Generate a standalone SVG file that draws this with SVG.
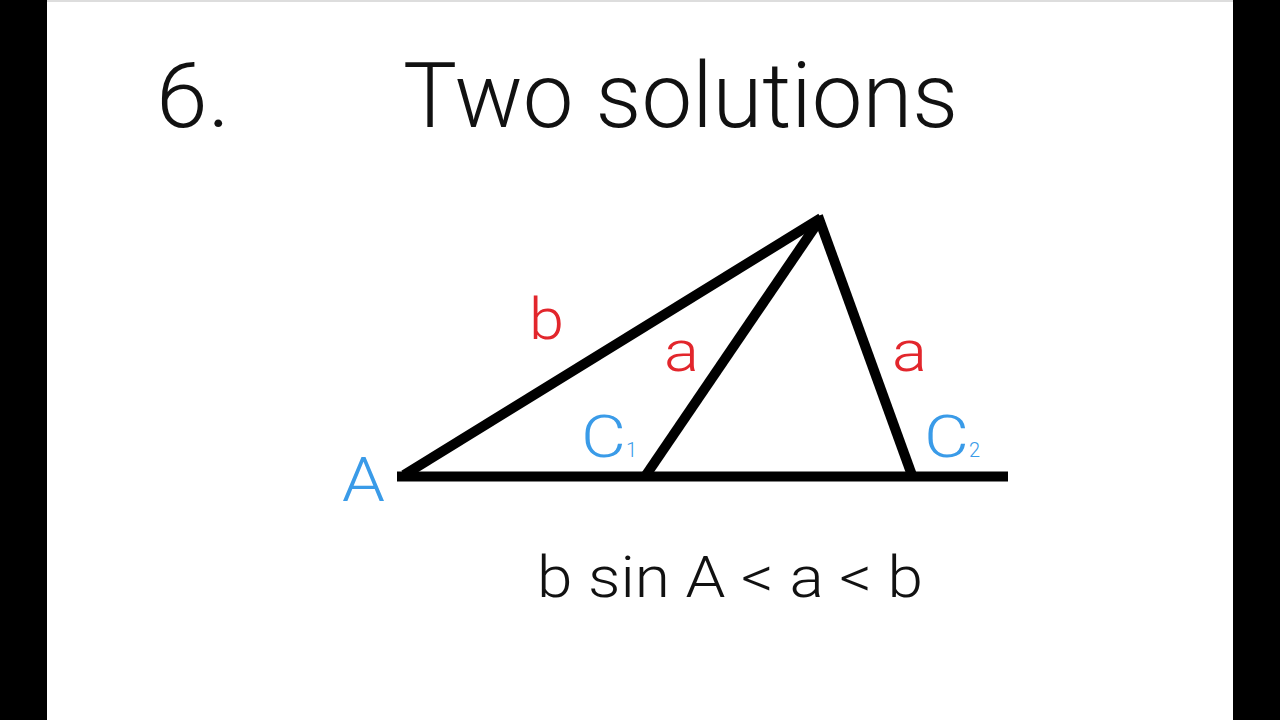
<svg xmlns="http://www.w3.org/2000/svg" width="1280" height="720" viewBox="0 0 1280 720">
<style>
.t{font-family:Roboto,"Liberation Sans",sans-serif;font-weight:300}
.red{fill:#e2262c}
.blue{fill:#3a9be8}
.blk{fill:#111}
.ln{stroke:#000;stroke-width:10;fill:none;stroke-linecap:butt}
</style>
<rect x="0" y="0" width="1280" height="720" fill="#fff"/>
<rect x="0" y="0" width="47" height="720" fill="#000"/>
<rect x="1233" y="0" width="47" height="720" fill="#000"/>
<line x1="47" y1="1" x2="1233" y2="1" stroke="#ddd" stroke-width="2"/>
<g id="title">
<text class="t blk" x="156" y="127" font-size="90" textLength="74" lengthAdjust="spacingAndGlyphs">6.</text>
<text class="t blk" x="403" y="127" font-size="90" textLength="555" lengthAdjust="spacingAndGlyphs">Two solutions</text>
</g>
<g id="connectors">
<line class="ln" x1="397" y1="476.5" x2="1008" y2="476.5"/>
<line class="ln" x1="404" y1="475" x2="821" y2="218"/>
<line class="ln" x1="644" y1="478" x2="821" y2="218"/>
<line class="ln" x1="913" y1="478" x2="818" y2="216"/>
</g>
<g id="labels">
<text class="t red" x="529" y="339" font-size="58" textLength="35" lengthAdjust="spacingAndGlyphs">b</text>
<text class="t red" x="664" y="371" font-size="58" textLength="35" lengthAdjust="spacingAndGlyphs">a</text>
<text class="t red" x="892" y="371" font-size="58" textLength="35" lengthAdjust="spacingAndGlyphs">a</text>
<text class="t blue" x="342" y="501" font-size="62" textLength="43" lengthAdjust="spacingAndGlyphs">A</text>
<text class="t blue" x="581" y="457" font-size="60" textLength="45" lengthAdjust="spacingAndGlyphs">C</text>
<text class="t blue" x="626" y="457" font-size="20">1</text>
<text class="t blue" x="924" y="457" font-size="60" textLength="45" lengthAdjust="spacingAndGlyphs">C</text>
<text class="t blue" x="969" y="457" font-size="20">2</text>
</g>
<g id="formula">
<text class="t blk" x="537" y="597" font-size="58" textLength="386" lengthAdjust="spacingAndGlyphs">b sin A &lt; a &lt; b</text>
</g>
</svg>
